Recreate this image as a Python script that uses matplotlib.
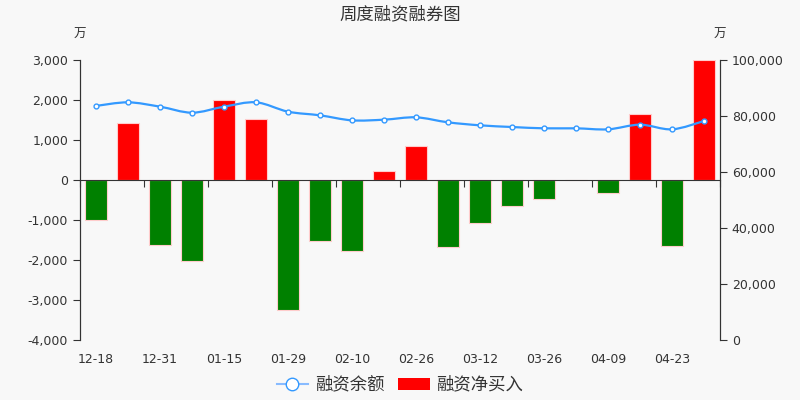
import numpy as np
import matplotlib
matplotlib.use("Agg")
import matplotlib.pyplot as plt
from matplotlib.path import Path
from matplotlib.patches import PathPatch
from matplotlib.lines import Line2D
from matplotlib.patches import FancyBboxPatch
from matplotlib.ticker import FuncFormatter, MultipleLocator

plt.rcParams['font.family'] = ['DejaVu Sans', 'Noto Sans CJK SC']

# data
dates = ["12-18", "12-25", "12-31", "01-08", "01-15", "01-22", "01-29", "02-05",
         "02-10", "02-19", "02-26", "03-05", "03-12", "03-19", "03-26", "04-02",
         "04-09", "04-16", "04-23", "04-30"]
net_buy = [-1000, 1420, -1625, -2017, 2000, 1525, -3258, -1525, -1783, 233,
           850, -1667, -1067, -642, -475, 0, -333, 1650, -1658, 3000]
balance = [83600, 84880, 83330, 81190, 83330, 84880, 81550, 80240, 78450, 78690,
           79520, 77740, 76670, 76070, 75600, 75600, 75240, 76900, 75240, 78210]

bg = '#f8f8f8'
fig = plt.figure(figsize=(8, 4), dpi=100, facecolor=bg)
ax = fig.add_axes([0.1, 0.15, 0.8, 0.7], facecolor=bg)
ax2 = ax.twinx()

x = np.arange(len(dates))
colors = ['#ff0000' if v > 0 else '#008000' for v in net_buy]
ax.bar(x, net_buy, width=0.68, color=colors, edgecolor='#ffcccc', linewidth=0.8, zorder=2)

ax.set_xlim(-0.5, len(dates) - 0.5)
ax.set_ylim(-4000, 3000)
ax.yaxis.set_major_locator(MultipleLocator(1000))
ax.yaxis.set_major_formatter(FuncFormatter(lambda v, p: f"{int(v):,}"))

ax2.set_ylim(0, 100000)
ax2.yaxis.set_major_locator(MultipleLocator(20000))
ax2.yaxis.set_major_formatter(FuncFormatter(lambda v, p: f"{int(v):,}"))

# smooth balance line (catmull-rom -> bezier)
pts = np.column_stack([x, balance]).astype(float)
verts = [tuple(pts[0])]
codes = [Path.MOVETO]
t = 0.5 / 3
for i in range(len(pts) - 1):
    p0 = pts[i - 1] if i > 0 else pts[i]
    p1, p2 = pts[i], pts[i + 1]
    p3 = pts[i + 2] if i + 2 < len(pts) else pts[i + 1]
    c1 = p1 + (p2 - p0) * t
    c2 = p2 - (p3 - p1) * t
    verts += [tuple(c1), tuple(c2), tuple(p2)]
    codes += [Path.CURVE4] * 3
ax2.add_patch(PathPatch(Path(verts, codes), facecolor='none', edgecolor='#3399ff',
                        linewidth=1.6, zorder=3))
ax2.plot(x, balance, linestyle='none', marker='o', markersize=3.5,
         markerfacecolor='white', markeredgecolor='#3399ff', markeredgewidth=1, zorder=4)

# axes styling
axc = '#333333'
for a in (ax, ax2):
    a.spines['top'].set_visible(False)
    a.spines['left'].set_color(axc)
    a.spines['right'].set_color(axc)
    a.tick_params(colors=axc, labelsize=9, length=5)
ax2.spines['bottom'].set_visible(False)
ax.spines['bottom'].set_position(('data', 0))
ax.spines['bottom'].set_color(axc)
ax.set_xticks(np.arange(-0.5, len(dates), 2))
ax.set_xticklabels([])
ax.tick_params(axis='x', length=5, color=axc)
for i in range(0, len(dates), 2):
    ax.text(i, -0.045, dates[i], transform=ax.get_xaxis_transform(),
            ha='center', va='top', fontsize=9, color=axc)

ax.text(0, 1.07, "万", transform=ax.transAxes, ha='center', va='bottom',
        fontsize=9, color=axc, family=['Noto Sans CJK SC'])
ax.text(1.0, 1.07, "万", transform=ax.transAxes, ha='center', va='bottom',
        fontsize=9, color=axc, family=['Noto Sans CJK SC'])

fig.text(0.5, 0.965, "周度融资融券图", ha='center', va='center', fontsize=12.5,
         color='#333333', family=['Noto Sans CJK SC'])

handles = [
    Line2D([], [], color='#88bbff', linewidth=1.5, marker='o', markersize=9,
           markerfacecolor='white', markeredgecolor='#3399ff'),
    FancyBboxPatch((0, 0), 1, 1, boxstyle='round,pad=0.1', facecolor='#ff0000', edgecolor='none'),
]
fig.legend(handles, ["融资余额", "融资净买入"], loc='center', bbox_to_anchor=(0.5, 0.038),
           ncol=2, frameon=False, prop={'family': ['Noto Sans CJK SC'], 'size': 12.5},
           handlelength=1.8, columnspacing=0.8, handletextpad=0.4, labelcolor='#333333')

fig.savefig("out.png", dpi=100, facecolor=bg)
